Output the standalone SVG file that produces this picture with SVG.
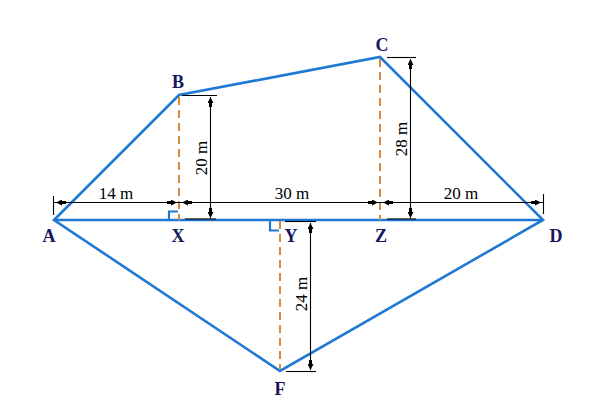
<svg xmlns="http://www.w3.org/2000/svg" width="598" height="404" viewBox="0 0 598 404">
<style>
.edge{fill:none;stroke:#1f78d4;stroke-width:2.6;stroke-linejoin:miter}
.dash{fill:none;stroke:#d98a3d;stroke-width:2;stroke-dasharray:8 5}
.dim{fill:none;stroke:#000;stroke-width:1.1}
.rt{fill:none;stroke:#1f78d4;stroke-width:2.2}
.pt{font-family:'Liberation Serif','Times New Roman',Times,serif;font-weight:bold;font-size:18px;fill:#161660;text-anchor:middle}
.lbl{font-family:'Liberation Serif','Times New Roman',Times,serif;font-size:17px;fill:#000;text-anchor:middle}
</style>
<defs>
<marker id="ah" viewBox="0 0 10 6" refX="10" refY="3" markerWidth="10" markerHeight="6" markerUnits="userSpaceOnUse" orient="auto">
<path d="M0,1.5 H4 V0 L10,3 L4,6 V4.5 H0 Z" fill="#000"/>
</marker>
</defs>
<g id="connectors">
<polygon class="edge" points="54,220 179,95 380,57 543,220 280,371"/>
<line class="edge" x1="54" y1="220" x2="543" y2="220"/>
<line class="dash" x1="179" y1="97" x2="179" y2="220"/>
<line class="dash" x1="380" y1="59" x2="380" y2="220"/>
<line class="dash" x1="280" y1="221" x2="280" y2="369"/>
<path class="rt" d="M169,220 V211.5 H178"/>
<path class="rt" d="M270,221 V230.5 H279"/>
<line class="dim" x1="53.5" y1="196" x2="53.5" y2="215"/>
<line class="dim" x1="543.5" y1="194" x2="543.5" y2="214"/>
<line class="dim" x1="54" y1="202.5" x2="543" y2="202.5"/>
<line class="dim" x1="110" y1="202.5" x2="56" y2="202.5" marker-end="url(#ah)"/>
<line class="dim" x1="120" y1="202.5" x2="177" y2="202.5" marker-end="url(#ah)"/>
<line class="dim" x1="290" y1="202.5" x2="182" y2="202.5" marker-end="url(#ah)"/>
<line class="dim" x1="300" y1="202.5" x2="378" y2="202.5" marker-end="url(#ah)"/>
<line class="dim" x1="460" y1="202.5" x2="383" y2="202.5" marker-end="url(#ah)"/>
<line class="dim" x1="470" y1="202.5" x2="541" y2="202.5" marker-end="url(#ah)"/>
<line class="dim" x1="182" y1="95.5" x2="217" y2="95.5"/>
<line class="dim" x1="185" y1="219" x2="216" y2="219"/>
<line class="dim" x1="210.5" y1="158" x2="210.5" y2="97" marker-end="url(#ah)"/>
<line class="dim" x1="210.5" y1="158" x2="210.5" y2="218" marker-end="url(#ah)"/>
<line class="dim" x1="387" y1="57.5" x2="416" y2="57.5"/>
<line class="dim" x1="387" y1="219" x2="416" y2="219"/>
<line class="dim" x1="410.5" y1="140" x2="410.5" y2="59" marker-end="url(#ah)"/>
<line class="dim" x1="410.5" y1="140" x2="410.5" y2="218" marker-end="url(#ah)"/>
<line class="dim" x1="285" y1="221.5" x2="316" y2="221.5"/>
<line class="dim" x1="286" y1="371.5" x2="316" y2="371.5"/>
<line class="dim" x1="310.5" y1="295" x2="310.5" y2="223" marker-end="url(#ah)"/>
<line class="dim" x1="310.5" y1="295" x2="310.5" y2="370" marker-end="url(#ah)"/>
</g>
<g id="labels">
<text class="lbl" x="116" y="199">14 m</text>
<text class="lbl" x="292" y="199">30 m</text>
<text class="lbl" x="461" y="199">20 m</text>
<text class="lbl" transform="translate(207,158) rotate(-90)">20 m</text>
<text class="lbl" transform="translate(407,139) rotate(-90)">28 m</text>
<text class="lbl" transform="translate(307,294) rotate(-90)">24 m</text>
</g>
<g id="node-A"><text class="pt" x="49" y="242">A</text></g>
<g id="node-B"><text class="pt" x="178" y="88">B</text></g>
<g id="node-C"><text class="pt" x="382" y="51">C</text></g>
<g id="node-D"><text class="pt" x="556" y="242">D</text></g>
<g id="node-F"><text class="pt" x="280" y="395">F</text></g>
<g id="node-X"><text class="pt" x="178" y="242">X</text></g>
<g id="node-Y"><text class="pt" x="291" y="242">Y</text></g>
<g id="node-Z"><text class="pt" x="381" y="242">Z</text></g>
</svg>
